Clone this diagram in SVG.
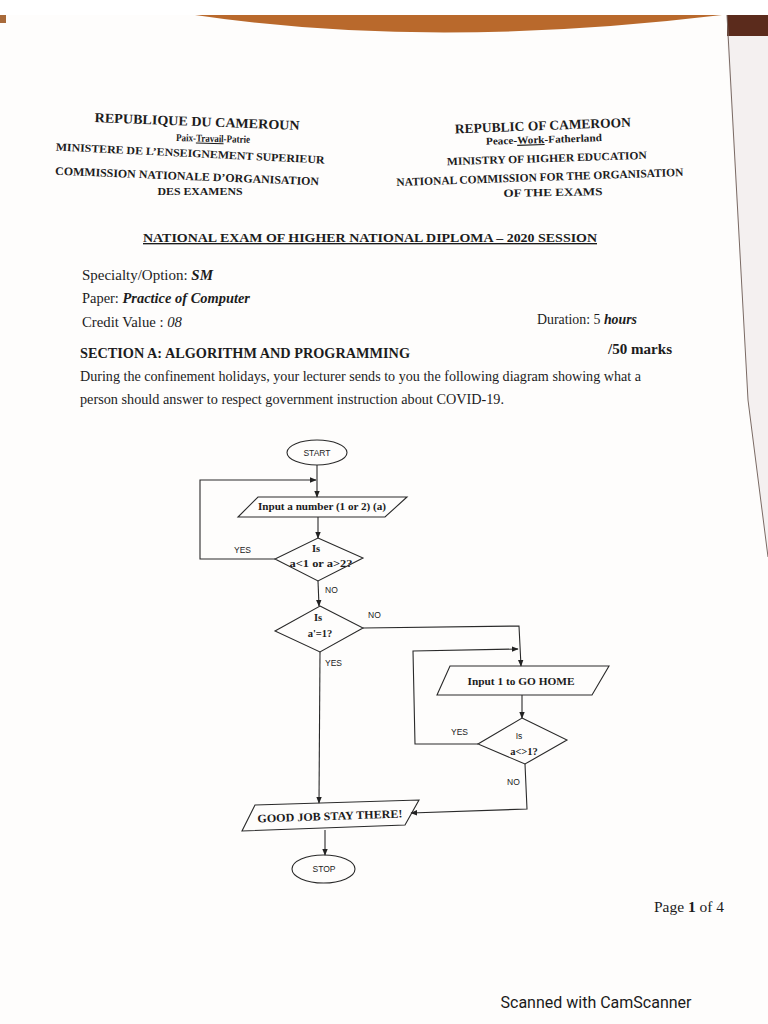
<svg xmlns="http://www.w3.org/2000/svg" width="768" height="1024" viewBox="0 0 768 1024">
<defs>
<marker id="ah" viewBox="0 0 10 10" refX="9" refY="5" markerWidth="7" markerHeight="7" orient="auto" markerUnits="userSpaceOnUse"><path d="M0,1 L10,5 L0,9 Z" fill="#222"/></marker>
<style>
.hd{font-family:"Liberation Serif","Times New Roman",serif;font-weight:bold;fill:#1c1c1c}
.bd{font-family:"Liberation Serif","Times New Roman",serif;font-size:14px;fill:#1c1c1c}
.fl{font-family:"Liberation Sans",Arial,sans-serif;font-size:8.5px;fill:#222}
.ft{font-family:"Liberation Serif","Times New Roman",serif;font-weight:bold;fill:#1c1c1c}
.sh{fill:none;stroke:#2a2a2a;stroke-width:1.1}
.cn{fill:none;stroke:#2a2a2a;stroke-width:1.1}
</style>
</defs>
<rect x="0" y="0" width="768" height="1024" fill="#fefdfc"/>
<rect x="0" y="0" width="768" height="15" fill="#ffffff"/>
<path d="M195,15 Q430,50 722,15 Z" fill="#b9692c"/>
<rect x="727" y="15" width="41" height="21" fill="#5b2b1c"/>
<rect x="0" y="15" width="6" height="8" fill="#a86a3a"/>
<path d="M727,36 L748,400 L768,557 L768,36 Z" fill="#f4f0f0"/>
<path d="M727,15 L748,400 L768,557" fill="none" stroke="#7a6a64" stroke-width="1"/>

<g id="header">
<text class="hd" x="197" y="126" font-size="13.5" text-anchor="middle" textLength="205" lengthAdjust="spacingAndGlyphs" transform="rotate(2.2 197 126)">REPUBLIQUE DU CAMEROUN</text>
<text class="hd" x="213" y="142" font-size="10.5" text-anchor="middle" textLength="74" lengthAdjust="spacingAndGlyphs" transform="rotate(1.5 213 142)">Paix-<tspan text-decoration="underline">Travail</tspan>-Patrie</text>
<text class="hd" x="190" y="157" font-size="11" text-anchor="middle" textLength="269" lengthAdjust="spacingAndGlyphs" transform="rotate(2.8 190 157)">MINISTERE DE L’ENSEIGNEMENT SUPERIEUR</text>
<text class="hd" x="187" y="180" font-size="11.5" text-anchor="middle" textLength="264" lengthAdjust="spacingAndGlyphs" transform="rotate(2.3 187 180)">COMMISSION NATIONALE D’ORGANISATION</text>
<text class="hd" x="200" y="195" font-size="11" text-anchor="middle" textLength="85" lengthAdjust="spacingAndGlyphs">DES EXAMENS</text>
<text class="hd" x="543" y="130" font-size="13.5" text-anchor="middle" textLength="176" lengthAdjust="spacingAndGlyphs" transform="rotate(-2.2 543 130)">REPUBLIC OF CAMEROON</text>
<text class="hd" x="544" y="143" font-size="10.5" text-anchor="middle" textLength="116" lengthAdjust="spacingAndGlyphs" transform="rotate(-1.8 544 143)">Peace-<tspan text-decoration="underline">Work</tspan>-Fatherland</text>
<text class="hd" x="547" y="162" font-size="11" text-anchor="middle" textLength="200" lengthAdjust="spacingAndGlyphs" transform="rotate(-1.8 547 162)">MINISTRY OF HIGHER EDUCATION</text>
<text class="hd" x="540" y="181" font-size="11.5" text-anchor="middle" textLength="287" lengthAdjust="spacingAndGlyphs" transform="rotate(-2 540 181)">NATIONAL COMMISSION FOR THE ORGANISATION</text>
<text class="hd" x="553" y="196" font-size="11" text-anchor="middle" textLength="99" lengthAdjust="spacingAndGlyphs" transform="rotate(-1 553 196)">OF THE EXAMS</text>
</g>

<g id="intro">
<text class="hd" x="370" y="242" font-size="13.5" text-anchor="middle" textLength="454" lengthAdjust="spacingAndGlyphs" text-decoration="underline">NATIONAL EXAM OF HIGHER NATIONAL DIPLOMA – 2020 SESSION</text>
<text class="bd" x="82" y="280" textLength="131" lengthAdjust="spacingAndGlyphs">Specialty/Option:  <tspan font-style="italic" font-weight="bold">SM</tspan></text>
<text class="bd" x="82" y="303" textLength="168" lengthAdjust="spacingAndGlyphs">Paper: <tspan font-style="italic" font-weight="bold">Practice of Computer</tspan></text>
<text class="bd" x="82" y="327" textLength="100" lengthAdjust="spacingAndGlyphs">Credit Value : <tspan font-style="italic">08</tspan></text>
<text class="bd" x="537" y="324" textLength="100" lengthAdjust="spacingAndGlyphs">Duration: 5 <tspan font-style="italic" font-weight="bold">hours</tspan></text>
<text class="hd" x="80" y="358" font-size="14" textLength="330" lengthAdjust="spacingAndGlyphs">SECTION A: ALGORITHM AND PROGRAMMING</text>
<text class="hd" x="608" y="354" font-size="14" textLength="64" lengthAdjust="spacingAndGlyphs">/50 marks</text>
<text class="bd" x="80" y="381" textLength="561" lengthAdjust="spacingAndGlyphs">During the confinement holidays, your lecturer sends to you the following diagram showing what a</text>
<text class="bd" x="80" y="404" textLength="424" lengthAdjust="spacingAndGlyphs">person should answer to respect government instruction about COVID-19.</text>
</g>

<g id="connectors">
<line class="cn" x1="317" y1="465" x2="317" y2="497" marker-end="url(#ah)"/>
<polyline class="cn" points="275,559 200,559 200,480 316,480" marker-end="url(#ah)"/>
<line class="cn" x1="318" y1="517" x2="318" y2="538" marker-end="url(#ah)"/>
<line class="cn" x1="318" y1="581" x2="319" y2="606" marker-end="url(#ah)"/>
<polyline class="cn" points="363,628 519,626 521,666" marker-end="url(#ah)"/>
<polyline class="cn" points="478,744 415,744 413,651 518,649" marker-end="url(#ah)"/>
<line class="cn" x1="522" y1="695" x2="522" y2="718" marker-end="url(#ah)"/>
<line class="cn" x1="320" y1="652" x2="319" y2="803" marker-end="url(#ah)"/>
<polyline class="cn" points="525,764 527,809 411,813" marker-end="url(#ah)"/>
<line class="cn" x1="325" y1="830" x2="325" y2="855" marker-end="url(#ah)"/>
</g>

<g id="start">
<ellipse class="sh" cx="317" cy="452.5" rx="30" ry="12.5"/>
<text class="fl" x="317" y="455.5" text-anchor="middle">START</text>
</g>
<g id="input-number">
<polygon class="sh" points="258,497 407,497 385,517 238,517"/>
<text class="ft" x="322" y="510" font-size="10.5" text-anchor="middle" textLength="128" lengthAdjust="spacingAndGlyphs">Input a number (1 or 2) (a)</text>
</g>
<g id="check-range">
<polygon class="sh" points="318,538 363,558 318,581 275,559"/>
<text class="ft" x="316" y="552" font-size="10.5" text-anchor="middle">Is</text>
<text class="ft" x="321" y="567" font-size="10.5" text-anchor="middle" textLength="63" lengthAdjust="spacingAndGlyphs">a&lt;1 or a&gt;2?</text>
<text class="fl" x="234" y="553">YES</text>
<text class="fl" x="325" y="593">NO</text>
</g>
<g id="check-equal">
<polygon class="sh" points="320,606 363,628 320,652 275,631"/>
<text class="ft" x="318" y="621" font-size="10.5" text-anchor="middle">Is</text>
<text class="ft" x="320" y="637" font-size="10.5" text-anchor="middle">a'=1?</text>
<text class="fl" x="368" y="618">NO</text>
<text class="fl" x="325" y="666">YES</text>
</g>
<g id="input-home">
<polygon class="sh" points="450,666 609,666 592,695 437,695"/>
<text class="ft" x="521" y="685" font-size="11" text-anchor="middle" textLength="107" lengthAdjust="spacingAndGlyphs">Input 1 to GO HOME</text>
</g>
<g id="check-home">
<polygon class="sh" points="522,718 567,740 525,764 478,744"/>
<text class="fl" x="519" y="739" text-anchor="middle">Is</text>
<text class="ft" x="524" y="755" font-size="10.5" text-anchor="middle">a&lt;&gt;1?</text>
<text class="fl" x="451" y="735">YES</text>
<text class="fl" x="507" y="785">NO</text>
</g>
<g id="good-job">
<polygon class="sh" points="255,805 419,800 405,825 242,831"/>
<text class="ft" x="330" y="820" font-size="11.5" text-anchor="middle" textLength="145" lengthAdjust="spacingAndGlyphs" transform="rotate(-2 330 818)">GOOD JOB STAY THERE!</text>
</g>
<g id="stop">
<ellipse class="sh" cx="323.5" cy="869" rx="31.5" ry="14"/>
<text class="fl" x="324" y="872" text-anchor="middle">STOP</text>
</g>

<g id="footer">
<text class="bd" x="654" y="912" font-size="15" textLength="70" lengthAdjust="spacingAndGlyphs">Page <tspan font-weight="bold">1</tspan> of 4</text>
<text x="596" y="1008" font-family="Roboto,'Liberation Sans',sans-serif" font-size="16" fill="#1a1a1a" text-anchor="middle">Scanned with CamScanner</text>
</g>
</svg>
